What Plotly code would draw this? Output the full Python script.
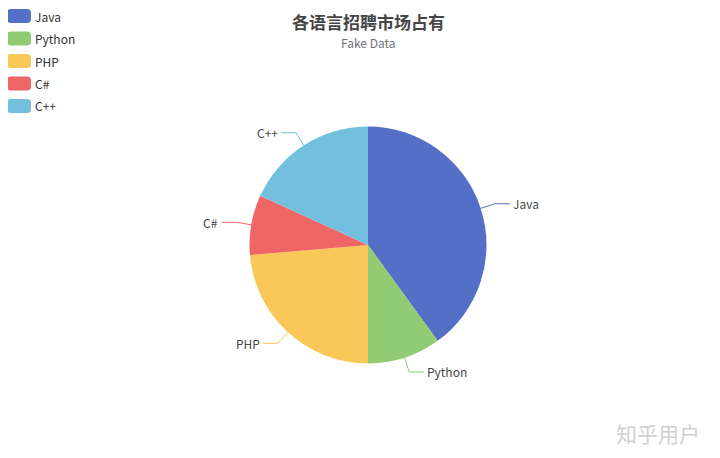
import numpy as np
import plotly.graph_objects as go

# data
languages = ["Java", "Python", "PHP", "C#", "C++"]
counts = [44, 11, 26, 9, 20]
colors = ["#5470c6", "#91cc75", "#fac858", "#ee6666", "#73c0de"]

W, H = 720, 458
OFF = 8  # page body margin
CX, CY, R = 368, 245, 118.5  # pie centre / radius in px (window coords)


def px(x):
    return (x - OFF) / W


def py(y):
    return 1 - (y - OFF) / H


fig = go.Figure(go.Pie(
    labels=languages,
    values=counts,
    marker=dict(colors=colors, line=dict(width=0)),
    sort=False,
    direction="clockwise",
    rotation=0,
    textinfo="none",
    hoverinfo="label+value+percent",
    showlegend=False,
    domain=dict(x=[px(CX - R), px(CX + R)], y=[py(CY + R), py(CY - R)]),
))

# outside labels with leader lines (echarts style)
vals = np.array(counts, dtype=float)
ends = np.cumsum(vals) / vals.sum() * 360
mids = ends - vals / vals.sum() * 180
shapes = []
annotations = []
for name, col, th in zip(languages, colors, np.radians(mids)):
    sx, sy = np.sin(th), -np.cos(th)
    x0, y0 = CX + R * sx, CY + R * sy
    x1, y1 = CX + (R + 15) * sx, CY + (R + 15) * sy
    side = 1 if sx >= 0 else -1
    x2 = x1 + 15 * side
    shapes.append(dict(type="path", xref="paper", yref="paper",
                       path=f"M {px(x0)},{py(y0)} L {px(x1)},{py(y1)} L {px(x2)},{py(y1)}",
                       line=dict(color=col, width=1)))
    annotations.append(dict(x=px(x2 + 1 * side), y=py(y1), xref="paper", yref="paper",
                            text=name, showarrow=False,
                            xanchor="left" if side > 0 else "right", yanchor="middle",
                            font=dict(size=12, color="#464646")))

# legend, top left, rounded swatches
for i, (name, col) in enumerate(zip(languages, colors)):
    yc = 16 + i * 22.5
    x0, x1, y0, y1, rr = 7, 31, yc - 7, yc + 7, 4
    path = (f"M {px(x0 + rr)},{py(y0)} L {px(x1 - rr)},{py(y0)} "
            f"Q {px(x1)},{py(y0)} {px(x1)},{py(y0 + rr)} L {px(x1)},{py(y1 - rr)} "
            f"Q {px(x1)},{py(y1)} {px(x1 - rr)},{py(y1)} L {px(x0 + rr)},{py(y1)} "
            f"Q {px(x0)},{py(y1)} {px(x0)},{py(y1 - rr)} L {px(x0)},{py(y0 + rr)} "
            f"Q {px(x0)},{py(y0)} {px(x0 + rr)},{py(y0)} Z")
    shapes.append(dict(type="path", xref="paper", yref="paper", path=path,
                       fillcolor=col, line=dict(width=0)))
    annotations.append(dict(x=px(33), y=py(yc), xref="paper", yref="paper",
                            text=name, showarrow=False, xanchor="left", yanchor="middle",
                            font=dict(size=12, color="#333333")))

# title / subtitle / watermark
annotations.append(dict(x=px(368), y=py(OFF), xref="paper", yref="paper",
                        text="<b>各语言招聘市场占有</b>", showarrow=False,
                        xanchor="center", yanchor="top", borderpad=0,
                        font=dict(size=17, color="#464646")))
annotations.append(dict(x=px(368), y=py(42), xref="paper", yref="paper",
                        text="Fake Data", showarrow=False,
                        xanchor="center", yanchor="middle",
                        font=dict(size=12, color="#6e7079")))
annotations.append(dict(x=px(702), y=py(433), xref="paper", yref="paper",
                        text="知乎用户", showarrow=False,
                        xanchor="right", yanchor="middle",
                        font=dict(size=21, color="#d0d0d0")))

fig.update_layout(
    width=W, height=H,
    margin=dict(l=0, r=0, t=0, b=0),
    paper_bgcolor="white",
    plot_bgcolor="white",
    font=dict(family="Noto Sans CJK SC, Noto Sans, sans-serif"),
    shapes=shapes,
    annotations=annotations,
)

fig.write_html("out.html")
